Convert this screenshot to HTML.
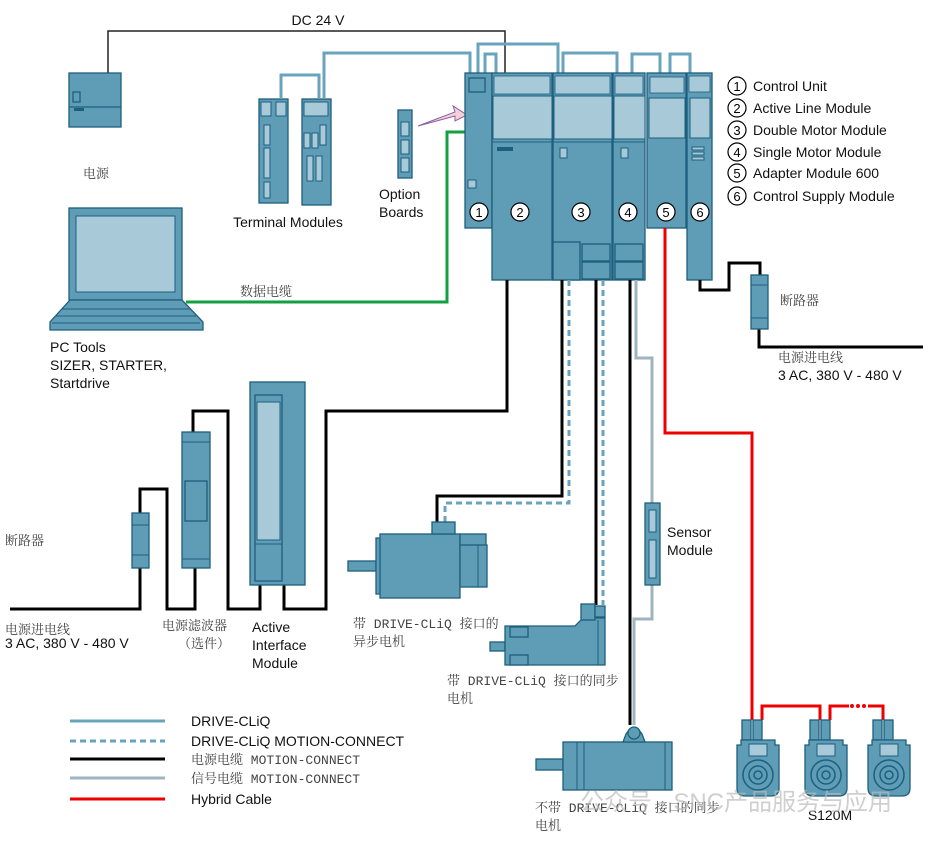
<!DOCTYPE html>
<html><head><meta charset="utf-8"><style>
html,body{margin:0;padding:0;background:#fff;}
svg{display:block;}
.s{font-family:"Liberation Sans","Noto Sans CJK SC",sans-serif;fill:#111;}
.c{font-family:"Liberation Mono","Noto Serif CJK SC",serif;fill:#444;}
.b{fill:#5f9cb6;stroke:#1d5f7e;stroke-width:1.3;}
.l{fill:#a8c9d8;stroke:#1d5f7e;stroke-width:1;}
.k{fill:none;stroke:#000;stroke-width:3;}
.q{fill:none;stroke:#6aa3bd;stroke-width:3;}
.qd{fill:none;stroke:#6aa3bd;stroke-width:3;stroke-dasharray:6,4;}
.g{fill:none;stroke:#9fb4c0;stroke-width:3;}
.r{fill:none;stroke:#e00;stroke-width:3;}
.n{fill:#fff;stroke:#000;stroke-width:1.2;}
.nt{font-family:"Liberation Sans",sans-serif;font-size:13px;text-anchor:middle;fill:#000;}
</style></head><body>
<svg width="947" height="841" viewBox="0 0 947 841" xmlns="http://www.w3.org/2000/svg">
<defs>
<g id="sm">
<rect x="5" y="0" width="9" height="20" class="b"/><rect x="16" y="0" width="9" height="20" class="b"/>
<path d="M4 20 H38 V25 H42 V68 Q42 76 34 76 H8 Q0 76 0 68 V25 H4Z" class="b"/>
<rect x="12" y="24" width="18" height="12" class="l"/>
<circle cx="21" cy="55" r="15" fill="none" stroke="#1d5f7e" stroke-width="1.5"/>
<circle cx="21" cy="55" r="9" fill="none" stroke="#1d5f7e" stroke-width="1.5"/>
<circle cx="21" cy="55" r="4" fill="none" stroke="#1d5f7e" stroke-width="1.5"/>
</g>
</defs>

<!-- DC 24V -->
<text x="318" y="25" class="s" font-size="14" text-anchor="middle">DC 24 V</text>
<path d="M108 73 V31 H505 V73" fill="none" stroke="#222" stroke-width="1.5"/>

<!-- power supply -->
<rect x="69" y="73" width="52" height="54" class="b"/>
<line x1="69" y1="107" x2="121" y2="107" stroke="#1d5f7e" stroke-width="1.3"/>
<rect x="73" y="92" width="7" height="10" class="b"/><rect x="74" y="108" width="10" height="3" fill="#1d5f7e"/>
<text x="96" y="178" class="c" font-size="13" text-anchor="middle">电源</text>

<!-- terminal modules -->
<path d="M281 98 V75 H319 V98" class="q"/>
<path d="M324 98 V53 H470 V73" class="q"/>
<path d="M478 73 V44 H558 V73" class="q"/>
<path d="M485 73 V54 H496 V73" class="q"/>
<path d="M563 73 V53 H617 V73" class="q"/>
<path d="M632 73 V54 H660 V73" class="q"/>
<path d="M670 73 V54 H690 V73" class="q"/>
<rect x="259" y="99" width="29" height="104" class="b"/>
<rect x="261" y="102" width="10" height="14" class="l"/><rect x="276" y="102" width="10" height="14" class="l"/>
<rect x="264" y="125" width="6" height="20" class="l"/><rect x="264" y="148" width="6" height="30" class="l"/><rect x="264" y="182" width="6" height="16" class="l"/>
<rect x="302" y="99" width="29" height="106" class="b"/>
<rect x="304" y="102" width="24" height="14" class="l"/>
<rect x="304" y="133" width="6" height="15" class="l"/><rect x="312" y="133" width="6" height="15" class="l"/><rect x="320" y="125" width="6" height="20" class="l"/>
<rect x="307" y="156" width="6" height="25" class="l"/><rect x="316" y="156" width="6" height="25" class="l"/>
<text x="288" y="227" class="s" font-size="14" text-anchor="middle">Terminal Modules</text>

<!-- option board -->
<rect x="398" y="110" width="14" height="68" class="b"/>
<rect x="401" y="122" width="8" height="14" class="l"/><rect x="401" y="140" width="8" height="14" class="l"/><rect x="401" y="158" width="8" height="14" class="l"/>
<path d="M418 126 L455 112 L453 106 L467 115 L455 121 L455 116Z" fill="#f2d2d6" stroke="#8a5fa6" stroke-width="1"/>
<text x="379" y="199" class="s" font-size="14">Option</text>
<text x="379" y="217" class="s" font-size="14">Boards</text>

<!-- laptop -->
<rect x="69" y="208" width="113" height="92" class="b"/>
<rect x="76" y="216" width="99" height="76" class="l"/>
<path d="M70 300 H182 L203 322 V330 H50 V322Z" class="b"/>
<line x1="62" y1="309" x2="190" y2="309" stroke="#1d5f7e"/><line x1="56" y1="316" x2="196" y2="316" stroke="#1d5f7e"/><line x1="52" y1="323" x2="200" y2="323" stroke="#1d5f7e"/>
<text x="50" y="352" class="s" font-size="14">PC Tools</text>
<text x="50" y="370" class="s" font-size="14">SIZER, STARTER,</text>
<text x="50" y="388" class="s" font-size="14">Startdrive</text>
<path d="M186 302 H447 V132 H465" fill="none" stroke="#13a040" stroke-width="3"/>
<text x="240" y="296" class="c" font-size="13">数据电缆</text>

<!-- drive modules -->
<rect x="465" y="73" width="27" height="155" class="b"/>
<rect x="469" y="78" width="16" height="14" class="b"/><rect x="468" y="180" width="8" height="8" class="l"/>
<rect x="492" y="73" width="60" height="207" class="b"/>
<rect x="553" y="73" width="59" height="207" class="b"/>
<rect x="613" y="73" width="32" height="207" class="b"/>
<rect x="647" y="73" width="39" height="155" class="b"/>
<rect x="687" y="73" width="25" height="207" class="b"/>
<g fill="#a8c9d8" stroke="#1d5f7e" stroke-width="0.8">
<rect x="494" y="76" width="56" height="18"/><rect x="555" y="76" width="55" height="18"/><rect x="615" y="76" width="28" height="18"/><rect x="650" y="77" width="34" height="16"/><rect x="689" y="76" width="21" height="16"/>
</g>
<rect x="493" y="96" width="59" height="43" class="l"/>
<rect x="554" y="96" width="58" height="43" class="l"/>
<rect x="614" y="96" width="31" height="43" class="l"/>
<rect x="649" y="98" width="36" height="40" class="l"/>
<rect x="690" y="98" width="20" height="40" class="l"/>
<line x1="492" y1="142" x2="645" y2="142" stroke="#1d5f7e"/>
<rect x="497" y="147" width="16" height="4" fill="#1d5f7e"/>
<rect x="560" y="148" width="7" height="10" class="l"/><rect x="621" y="148" width="7" height="10" class="l"/>
<rect x="692" y="147" width="12" height="3" class="l"/><rect x="692" y="152" width="12" height="3" class="l"/><rect x="692" y="157" width="12" height="3" class="l"/>
<rect x="553" y="242" width="27" height="38" class="b"/>
<rect x="582" y="244" width="28" height="17" class="b"/><rect x="582" y="262" width="28" height="17" class="b"/>
<rect x="615" y="244" width="28" height="17" class="b"/><rect x="615" y="262" width="28" height="17" class="b"/>
<g>
<circle cx="479" cy="212" r="9" class="n"/><text x="479" y="217" class="nt">1</text>
<circle cx="520" cy="212" r="9" class="n"/><text x="520" y="217" class="nt">2</text>
<circle cx="581" cy="212" r="9" class="n"/><text x="581" y="217" class="nt">3</text>
<circle cx="628" cy="212" r="9" class="n"/><text x="628" y="217" class="nt">4</text>
<circle cx="666" cy="212" r="9" class="n"/><text x="666" y="217" class="nt">5</text>
<circle cx="700" cy="212" r="9" class="n" stroke-width="2"/><text x="700" y="217" class="nt">6</text>
</g>
<!-- legend right -->
<g>
<circle cx="737" cy="86" r="9" class="n"/><text x="737" y="91" class="nt">1</text><text x="753" y="91" class="s" font-size="14">Control Unit</text>
<circle cx="737" cy="108" r="9" class="n"/><text x="737" y="113" class="nt">2</text><text x="753" y="113" class="s" font-size="14">Active Line Module</text>
<circle cx="737" cy="130" r="9" class="n" stroke-width="2"/><text x="737" y="135" class="nt">3</text><text x="753" y="135" class="s" font-size="14">Double Motor Module</text>
<circle cx="737" cy="152" r="9" class="n"/><text x="737" y="157" class="nt">4</text><text x="753" y="157" class="s" font-size="14">Single Motor Module</text>
<circle cx="737" cy="173" r="9" class="n"/><text x="737" y="178" class="nt">5</text><text x="753" y="178" class="s" font-size="14">Adapter Module 600</text>
<circle cx="737" cy="196" r="9" class="n"/><text x="737" y="201" class="nt">6</text><text x="753" y="201" class="s" font-size="14">Control Supply Module</text>
</g>

<!-- right supply -->
<path d="M700 280 V290 H729 V263 H760 V275" class="k"/>
<path d="M759 329 V347 H923" class="k"/>
<rect x="751" y="275" width="17" height="54" class="b"/>
<line x1="751" y1="285" x2="768" y2="285" stroke="#1d5f7e"/><line x1="751" y1="318" x2="768" y2="318" stroke="#1d5f7e"/>
<text x="780" y="305" class="c" font-size="13">断路器</text>
<text x="778" y="362" class="c" font-size="13">电源进电线</text>
<text x="778" y="380" class="s" font-size="14">3 AC, 380 V - 480 V</text>

<!-- left supply chain -->
<path d="M10 609 H140 V568" class="k"/>
<path d="M140 513 V489 H167 V609 H195 V568" class="k"/>
<path d="M193 432 V411 H228 V609 H260 V585" class="k"/>
<path d="M284 585 V609 H326 V411 H507 V280" class="k"/>
<rect x="132" y="513" width="17" height="55" class="b"/>
<line x1="132" y1="525" x2="149" y2="525" stroke="#1d5f7e"/><line x1="132" y1="555" x2="149" y2="555" stroke="#1d5f7e"/>
<rect x="182" y="432" width="28" height="136" class="b"/>
<rect x="185" y="481" width="22" height="40" class="b"/>
<line x1="182" y1="442" x2="210" y2="442" stroke="#1d5f7e"/><line x1="182" y1="559" x2="210" y2="559" stroke="#1d5f7e"/>
<rect x="250" y="382" width="55" height="203" class="b"/>
<rect x="255" y="395" width="27" height="186" class="b"/>
<rect x="257" y="402" width="23" height="138" class="l"/>
<line x1="255" y1="544" x2="282" y2="544" stroke="#1d5f7e"/>
<text x="5" y="545" class="c" font-size="13">断路器</text>
<text x="5" y="634" class="c" font-size="13">电源进电线</text>
<text x="5" y="648" class="s" font-size="14">3 AC, 380 V - 480 V</text>
<text x="162" y="630" class="c" font-size="13">电源滤波器</text>
<text x="178" y="648" class="c" font-size="13">（选件）</text>
<text x="252" y="632" class="s" font-size="14">Active</text>
<text x="252" y="650" class="s" font-size="14">Interface</text>
<text x="252" y="668" class="s" font-size="14">Module</text>

<!-- motor cables -->
<path d="M562 280 V496 H437 V523" class="k"/>
<path d="M569 280 V503 H445 V523" class="qd"/>
<path d="M596 280 V605" class="k"/>
<path d="M603 280 V605" class="qd"/>
<path d="M630 280 V725" class="k"/>
<path d="M636 280 V358 H652 V503" class="g"/>
<path d="M652 585 V619 H634 V725" class="g"/>
<path d="M665 228 V433 H752 V720" class="r"/>
<path d="M762 720 V706 H820 V720" class="r"/>
<path d="M830 720 V706 H849" class="r"/>
<path d="M868 706 H883 V720" class="r"/>
<circle cx="852" cy="706" r="2" fill="#e00"/><circle cx="858" cy="706" r="2" fill="#e00"/><circle cx="864" cy="706" r="2" fill="#e00"/>

<!-- sensor module -->
<rect x="645" y="503" width="15" height="82" class="b"/>
<rect x="649" y="510" width="7" height="22" class="l"/><rect x="649" y="540" width="7" height="38" class="l"/>
<text x="667" y="537" class="s" font-size="14">Sensor</text>
<text x="667" y="555" class="s" font-size="14">Module</text>

<!-- motor 1 async -->
<rect x="348" y="561" width="28" height="10" class="b"/>
<rect x="376" y="538" width="5" height="56" class="b"/>
<rect x="380" y="534" width="80" height="64" class="b"/>
<rect x="432" y="522" width="23" height="12" class="b"/>
<rect x="460" y="534" width="26" height="12" class="b"/>
<rect x="460" y="545" width="27" height="42" class="b"/>
<line x1="478" y1="545" x2="478" y2="587" stroke="#1d5f7e"/>
<text x="353" y="628" class="c" font-size="13">带 DRIVE-CLiQ 接口的</text>
<text x="353" y="646" class="c" font-size="13">异步电机</text>

<!-- motor 2 sync -->
<rect x="490" y="642" width="15" height="9" class="b"/>
<path d="M505 626 H575 L583 618 H605 V665 H505Z" class="b"/>
<rect x="581" y="604" width="14" height="16" class="b"/><rect x="595" y="606" width="10" height="11" class="b"/>
<rect x="510" y="627" width="18" height="10" class="b"/><rect x="510" y="655" width="18" height="10" class="b"/>
<line x1="598" y1="620" x2="598" y2="665" stroke="#1d5f7e"/>
<text x="447" y="685" class="c" font-size="13">带 DRIVE-CLiQ 接口的同步</text>
<text x="447" y="703" class="c" font-size="13">电机</text>

<!-- motor 3 -->
<rect x="536" y="759" width="27" height="11" class="b"/>
<rect x="563" y="742" width="109" height="48" class="b"/>
<line x1="577" y1="742" x2="577" y2="790" stroke="#1d5f7e"/><line x1="584" y1="742" x2="584" y2="790" stroke="#1d5f7e"/><line x1="665" y1="742" x2="665" y2="790" stroke="#1d5f7e"/>
<path d="M623 742 L626 734 Q634 722 642 734 L645 742Z" class="b"/>
<circle cx="634" cy="733" r="6" class="b"/>
<text x="535" y="812" class="c" font-size="13">不带 DRIVE-CLiQ 接口的同步</text>
<text x="535" y="830" class="c" font-size="13">电机</text>

<!-- S120M -->
<use href="#sm" x="737" y="720"/>
<use href="#sm" x="805" y="720"/>
<use href="#sm" x="868" y="720"/>
<text x="830" y="820" class="s" font-size="14" text-anchor="middle">S120M</text>

<!-- legend -->
<line x1="70" y1="721" x2="165" y2="721" class="q"/>
<line x1="70" y1="741" x2="165" y2="741" class="qd"/>
<line x1="70" y1="759" x2="165" y2="759" class="k"/>
<line x1="70" y1="778" x2="165" y2="778" class="g"/>
<line x1="70" y1="799" x2="165" y2="799" class="r"/>
<text x="191" y="726" class="s" font-size="14">DRIVE-CLiQ</text>
<text x="191" y="746" class="s" font-size="14">DRIVE-CLiQ MOTION-CONNECT</text>
<text x="191" y="764" class="c" font-size="13">电源电缆 MOTION-CONNECT</text>
<text x="191" y="783" class="c" font-size="13">信号电缆 MOTION-CONNECT</text>
<text x="191" y="804" class="s" font-size="14">Hybrid Cable</text>

<!-- watermark -->
<text x="580" y="810" font-family="Liberation Sans,Noto Sans CJK SC,sans-serif" font-size="24" fill="#bbb" opacity="0.7">公众号 · SNC产品服务与应用</text>
</svg>
</body></html>
